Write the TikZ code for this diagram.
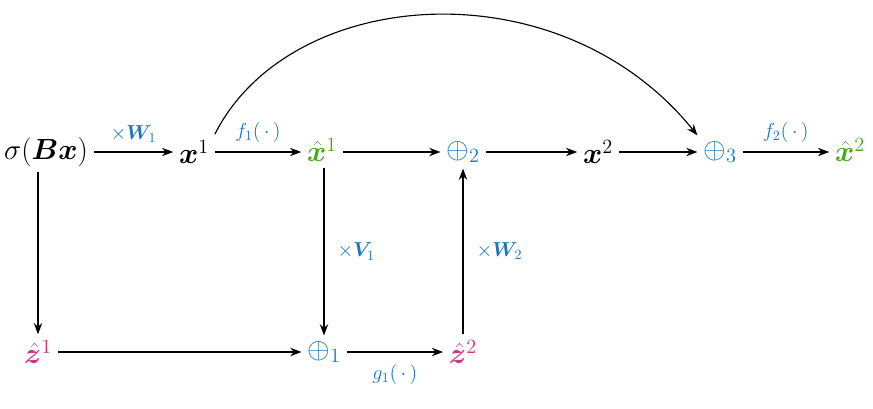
\documentclass[tikz,border=0pt]{standalone}
\usepackage{amsmath,amssymb,bm}
\usetikzlibrary{arrows.meta}
\definecolor{cg}{RGB}{70,170,20}
\definecolor{cb}{RGB}{25,120,185}
\definecolor{cm}{RGB}{205,50,130}
\begin{document}
\begin{tikzpicture}[x=0.025cm,y=-0.025cm,
  nd/.style={font=\huge,inner sep=4pt},
  lb/.style={font=\Large,text=cb},
  ar/.style={-{Stealth[length=8pt,width=6pt]},thick}]
\useasboundingbox (0,0) rectangle (873,408);
\node[nd] (s) at (46,152) {$\sigma(\bm{B}\bm{x})$};
\node[nd] (x1) at (194,152) {$\bm{x}^1$};
\node[nd,text=cg] (h1) at (322,150) {$\hat{\bm{x}}^1$};
\node[nd,text=cb] (p2) at (463,152) {$\oplus_2$};
\node[nd] (x2) at (598,152) {$\bm{x}^2$};
\node[nd,text=cb] (p3) at (720,152) {$\oplus_3$};
\node[nd,text=cg] (h2) at (850,150) {$\hat{\bm{x}}^2$};
\node[nd,text=cm] (z1) at (38,352) {$\hat{\bm{z}}^1$};
\node[nd,text=cb] (p1) at (324,352) {$\oplus_1$};
\node[nd,text=cm] (z2) at (463,352) {$\hat{\bm{z}}^2$};
\coordinate (st) at (s.south -| z1.north);
\draw[ar] (s) -- node[lb,above=3pt]{$\times\bm{W}_1$} (x1);
\draw[ar] (x1.east) -- node[lb,above=3pt]{$f_1(\,\cdot\,)$} (x1.east -| h1.west);
\draw[ar] (h1.east |- p2.west) -- (p2.west);
\draw[ar] (p2) -- (x2);
\draw[ar] (x2) -- (p3);
\draw[ar] (p3.east) -- node[lb,above=3pt]{$f_2(\,\cdot\,)$} (p3.east -| h2.west);
\draw[ar] (st) -- (z1);
\draw[ar] (z1) -- (p1);
\draw[ar] (p1) -- node[lb,below=5pt]{$g_1(\,\cdot\,)$} (z2);
\draw[ar] (h1.south -| p1.north) -- node[lb,right=6pt]{$\times\bm{V}_1$} (p1);
\draw[ar] (z2) -- node[lb,right=6pt]{$\times\bm{W}_2$} (p2);
\draw[ar] (x1.north east) .. controls (290,-15) and (560,-35) .. (p3.north west);
\end{tikzpicture}
\end{document}
